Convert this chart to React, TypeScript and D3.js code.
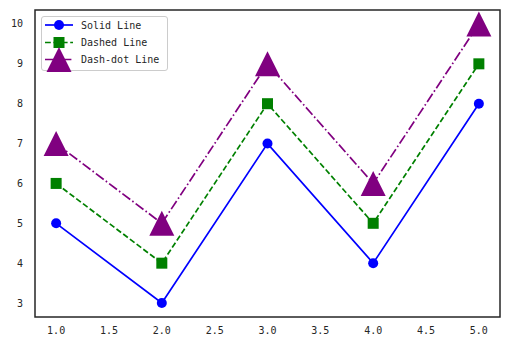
import React from "react";
import * as d3 from "d3";

const xs = [1, 2, 3, 4, 5];
const solidValues = [5, 3, 7, 4, 8];
const dashedValues = [6, 4, 8, 5, 9];
const dashdotValues = [7, 5, 9, 6, 10];
const xTicks = [1.0, 1.5, 2.0, 2.5, 3.0, 3.5, 4.0, 4.5, 5.0];
const yTicks = [3, 4, 5, 6, 7, 8, 9, 10];
const seriesNames = ["Solid Line", "Dashed Line", "Dash-dot Line"];

const W = 510, H = 352;
const L = 35, R = 500, T = 10, B = 317;
const FONT = "'DejaVu Sans Mono', 'Liberation Mono', monospace";

type Marker = "circle" | "square" | "triangle";

function MarkerShape({ x, y, type, color }: { x: number; y: number; type: Marker; color: string }) {
  if (type === "circle") return <circle cx={x} cy={y} r={5} fill={color} />;
  if (type === "square") return <rect x={x - 5.5} y={y - 5.5} width={11} height={11} fill={color} />;
  const s = 12.5;
  return <path d={`M${x},${y - s}L${x - s},${y + s}L${x + s},${y + s}Z`} fill={color} />;
}

export default function App() {
  const x = d3.scaleLinear().domain([0.8, 5.2]).range([L, R]);
  const y = d3.scaleLinear().domain([2.65, 10.35]).range([B, T]);
  const line = d3
    .line<number>()
    .x((_, i) => x(xs[i]))
    .y((d) => y(d));

  const series = [
    { name: seriesNames[0], values: solidValues, color: "#0000ff", dash: "", marker: "circle" as Marker },
    { name: seriesNames[1], values: dashedValues, color: "#008000", dash: "5.8,2.6", marker: "square" as Marker },
    { name: seriesNames[2], values: dashdotValues, color: "#800080", dash: "9.8,2.6,1.6,2.6", marker: "triangle" as Marker },
  ];

  const legendRows = [25, 42.5, 59.5];

  return (
    <svg width={W} height={H} style={{ position: "absolute", left: 0, top: 0, background: "#fff" }}>
      <rect x={0} y={0} width={W} height={H} fill="#fff" />
      {series.map((s) => (
        <g key={s.name}>
          <path d={line(s.values) || ""} fill="none" stroke={s.color} strokeWidth={1.7} strokeDasharray={s.dash || undefined} />
          {s.values.map((v, i) => (
            <MarkerShape key={i} x={x(xs[i])} y={y(v)} type={s.marker} color={s.color} />
          ))}
        </g>
      ))}
      <rect x={L} y={T} width={R - L} height={B - T} fill="none" stroke="#262626" strokeWidth={1.5} />
      {xTicks.map((t) => (
        <text key={t} x={x(t)} y={334} textAnchor="middle" fontFamily={FONT} fontSize={10} fill="#262626">
          {t.toFixed(1)}
        </text>
      ))}
      {yTicks.map((t) => (
        <text key={t} x={23} y={y(t) + 3.5} textAnchor="end" fontFamily={FONT} fontSize={10} fill="#262626">
          {t}
        </text>
      ))}
      <rect x={41.5} y={16.5} width={126} height={54} rx={2.5} fill="#fff" fillOpacity={0.8} stroke="#cccccc" strokeWidth={1} />
      {series.map((s, i) => (
        <g key={s.name}>
          <line x1={45} x2={73} y1={legendRows[i]} y2={legendRows[i]} stroke={s.color} strokeWidth={1.7} strokeDasharray={s.dash || undefined} />
          <MarkerShape x={59} y={legendRows[i]} type={s.marker} color={s.color} />
          <text x={81} y={legendRows[i] + 3.5} fontFamily={FONT} fontSize={10} fill="#262626">
            {s.name}
          </text>
        </g>
      ))}
    </svg>
  );
}
